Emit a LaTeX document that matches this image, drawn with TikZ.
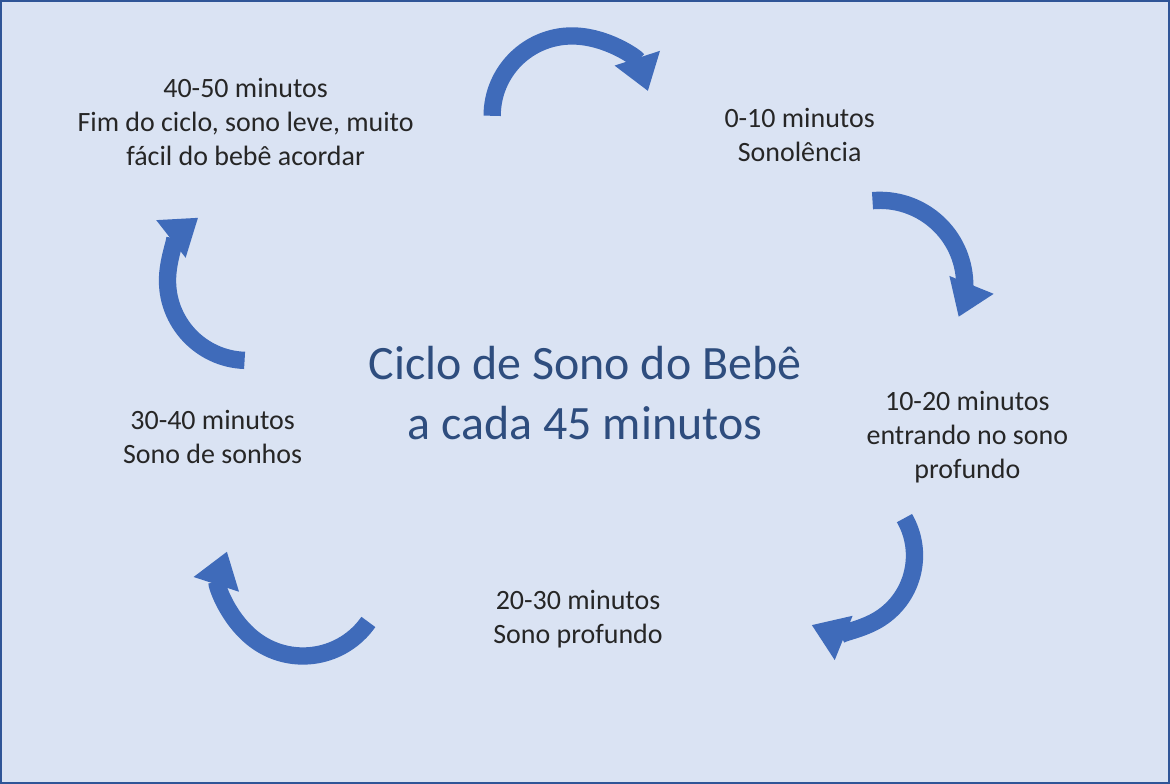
\documentclass[tikz,border=0pt]{standalone}
\usepackage{fontspec}
\setmainfont{Carlito}
\usetikzlibrary{arrows.meta}
\definecolor{bg}{HTML}{DAE3F3}
\definecolor{frame}{HTML}{2F5597}
\definecolor{arr}{HTML}{3F6BBA}
\definecolor{ttl}{HTML}{2E4D7E}
\tikzset{
 lbl/.style={align=center,font=\fontsize{21}{25.5}\selectfont,text=black!85},
 carr/.style={draw=arr,line width=13pt,-{Triangle[length=26pt,width=34pt]}},
}
\begin{document}
\begin{tikzpicture}[x=0.75pt,y=0.75pt]
\fill[bg,draw=frame,line width=1.5pt] (0,0) rectangle (1170,-783);
\useasboundingbox (0,0) rectangle (1170,-783);
\node[lbl] (a) at (245,-121) {40-50 minutos\\Fim do ciclo, sono leve, muito\\fácil do bebê acordar};
\node[lbl] (b) at (800,-134) {0-10 minutos\\Sonolência};
\node[lbl] (c) at (968,-437) {10-20 minutos\\entrando no sono\\profundo};
\node[lbl] (d) at (578,-619) {20-30 minutos\\Sono profundo};
\node[lbl] (e) at (212,-437) {30-40 minutos\\Sono de sonhos};
\node[align=center,text=ttl,font=\fontsize{36}{45}\selectfont] (t) at (585,-393) {Ciclo de Sono do Bebê\\a cada 45 minutos};
\draw[carr] (492,-115) arc[start angle=180,end angle=18,radius=80];
\draw[carr] (873,-200) arc[start angle=95,end angle=-22,radius=85];
\draw[carr] (905,-518) arc[start angle=30,end angle=-112,radius=75];
\draw[carr] (368,-622) arc[start angle=-35,end angle=-198,radius=80];
\draw[carr] (244,-360) arc[start angle=-92,end angle=-232,radius=80];
\end{tikzpicture}
\end{document}
